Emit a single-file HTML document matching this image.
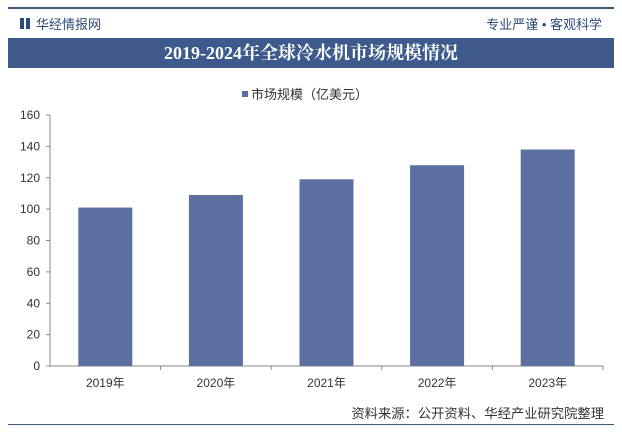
<!DOCTYPE html>
<html><head><meta charset="utf-8"><style>
body{margin:0;width:622px;height:436px;background:#fff;overflow:hidden;font-family:"Liberation Sans","Noto Sans CJK SC",sans-serif;position:relative}
.abs{position:absolute}
</style></head><body>
<div class="abs" style="left:8px;top:7px;width:606px;height:2px;background:#3d5680"></div>
<div class="abs" style="left:20px;top:14px;font-size:13px;color:#2c4a7c"><span style="display:inline-block;width:4px;height:11px;background:#2c4a7c;margin-right:2px"></span><span style="display:inline-block;width:4px;height:11px;background:#2c4a7c;margin-right:6px"></span><span>华经情报网</span></div>
<div class="abs" style="right:20px;top:14px;font-size:13px;color:#2c4a7c">专业严谨 • 客观科学</div>
<div class="abs" style="left:8px;top:38px;width:606px;height:30px;background:#3e5a8c;color:#fff;font-family:'Liberation Serif','Noto Serif CJK SC',serif;font-weight:bold;font-size:18px;text-align:center;line-height:30px">2019-2024年全球冷水机市场规模情况</div>
<div class="abs" style="left:242px;top:84px;font-size:13px;color:#333"><span style="display:inline-block;width:6px;height:6px;background:#5b70a0;margin-right:3px;vertical-align:2px"></span>市场规模（亿美元）</div>
<svg class="abs" style="left:0;top:0" width="622" height="436" id="chart"></svg>
<div class="abs" style="right:18px;top:403px;font-size:13.3px;color:#333">资料来源：公开资料、华经产业研究院整理</div>
<div class="abs" style="left:8px;top:424px;width:606px;height:1px;background:#3d5680"></div>
<script>
const categories=["2019年","2020年","2021年","2022年","2023年"];
const values=[101,109,119,128,138];
const yTicks=[0,20,40,60,80,100,120,140,160];
const ns="http://www.w3.org/2000/svg";
const svg=document.getElementById('chart');
const x0=50,x1=603,y0=366,y1=115,ymax=160;
const cw=(x1-x0)/categories.length;
const ys=v=>y0-(v/ymax)*(y0-y1);
function mk(t,a){const e=document.createElementNS(ns,t);for(const k in a)e.setAttribute(k,a[k]);svg.appendChild(e);return e;}
let ax=mk('line',{x1:x0,y1:y1,x2:x0,y2:y0,stroke:'#888'});


let bx=mk('line',{x1:x0,y1:y0,x2:x1,y2:y0,stroke:'#888'});


yTicks.forEach(v=>{
  const y=ys(v);
  mk('line',{x1:x0-4,y1:y,x2:x0,y2:y,stroke:'#888'});
  const t=mk('text',{x:x0-10,y:y+4,'text-anchor':'end','font-size':12,fill:'#333'});
  t.textContent=v;
  
  
});
categories.forEach((c,i)=>{
  const cx=x0+cw*(i+0.5);
  mk('line',{x1:x0+cw*(i+1),y1:y0,x2:x0+cw*(i+1),y2:y0+4,stroke:'#888'});
  const r=mk('rect',{x:cx-27,y:ys(values[i]),width:54,height:y0-ys(values[i]),fill:'#5b70a0'});
  
  
  const t=mk('text',{x:cx,y:y0+21,'text-anchor':'middle','font-size':12,fill:'#333'});
  t.textContent=c;
  
  
});
</script>
</body></html>
